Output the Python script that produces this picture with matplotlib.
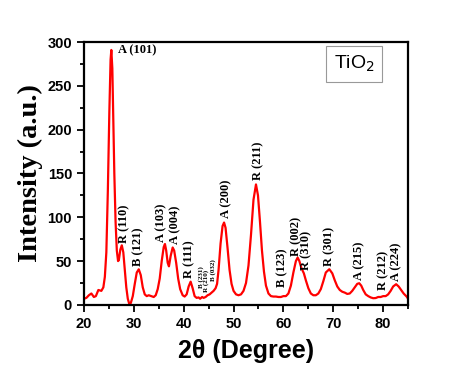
import matplotlib
matplotlib.use("Agg")
import matplotlib.pyplot as plt
from matplotlib.ticker import MultipleLocator

# XRD pattern (2theta, intensity)
two_theta = [20.0, 20.5, 21.0, 21.5, 22.0, 22.4, 22.9, 23.5, 23.9, 24.2, 24.5, 24.8,
             25.1, 25.35, 25.5, 25.7, 25.9, 26.1, 26.35, 26.6, 26.85, 27.0, 27.3, 27.6,
             27.9, 28.2, 28.5, 28.8, 29.1, 29.4, 29.8, 30.2, 30.6, 31.0, 31.4, 31.8,
             32.2, 32.6, 33.0, 33.5, 34.0, 34.4, 34.8, 35.2, 35.6, 36.0, 36.25, 36.5,
             36.8, 37.05, 37.4, 37.8, 38.1, 38.5, 38.9, 39.3, 39.8, 40.2, 40.6, 41.0,
             41.4, 41.8, 42.2, 42.6, 43.0, 43.3, 43.7, 44.0, 44.4, 44.8, 45.2, 45.6,
             46.0, 46.4, 46.7, 47.0, 47.4, 47.8, 48.1, 48.4, 48.8, 49.2, 49.6, 50.0,
             50.5, 51.0, 51.5, 52.0, 52.5, 53.0, 53.5, 54.0, 54.5, 54.9, 55.3, 55.7,
             56.1, 56.5, 57.0, 57.5, 58.0, 58.5, 59.0, 59.5, 60.0, 60.5, 61.0, 61.5,
             62.0, 62.5, 62.85, 63.2, 63.6, 64.1, 64.5, 65.0, 65.5, 66.0, 66.5, 67.0,
             67.5, 68.0, 68.5, 69.2, 69.8, 70.3, 70.8, 71.3, 71.8, 72.3, 72.8, 73.3,
             73.8, 74.3, 74.8, 75.2, 75.6, 76.0, 76.5, 77.0, 77.5, 78.0, 78.5, 79.0,
             79.5, 80.0, 80.5, 81.0, 81.5, 82.0, 82.6, 83.1, 83.6, 84.1, 84.7, 85.0]
intensity = [7, 8, 11, 13, 9, 10, 17, 16, 20, 32, 60, 130,
             220, 280, 291, 270, 210, 150, 95, 62, 50, 51, 63, 68,
             60, 40, 20, 7, 1, 2, 10, 24, 37, 40.6, 34, 20,
             12, 10, 11, 10, 9, 11, 18, 30, 50, 66, 69.5, 62,
             48, 44, 56, 65.5, 62, 48, 30, 18, 11, 9.5, 12, 21,
             26.5, 19, 10, 8, 8.5, 7, 9, 8, 9, 11, 12, 14,
             16, 19, 24, 40, 70, 90, 94, 88, 65, 40, 24, 16,
             12, 11, 12, 16, 25, 45, 80, 120, 137.5, 125, 95, 62,
             38, 22, 13, 10, 9.5, 9.5, 9, 9, 10, 10, 13, 22,
             37, 50, 54, 50, 42, 36, 28, 19, 13, 11, 11, 13,
             18, 27, 37, 40.7, 36, 28, 21, 17, 15, 14, 12.5, 13,
             16, 20, 24, 24.7, 22, 17, 12, 10, 8.5, 7.6, 7.8, 9,
             9, 10, 10, 12, 16, 21, 23.6, 21, 17, 13, 9.5, 7]

# peak labels: text, x, y (bottom of vertical label), font size
peak_labels = ["R (110)", "B (121)", "A (103)", "A (004)", "R (111)",
               "B (231)", "R (210)", "B (032)", "A (200)", "R (211)",
               "B (123)", "R (002)", "R (310)", "R (301)", "A (215)",
               "R (212)", "A (224)"]
peak_x = [28.0, 30.9, 35.6, 38.25, 41.1, 43.4, 44.6, 45.9, 48.5, 55.0,
          59.85, 62.6, 64.6, 69.2, 75.2, 80.05, 82.7]
peak_y = [71, 44, 72, 69, 31, 19, 15, 27, 99, 143, 20, 56, 40, 44, 28.5, 17, 27]
peak_size = [9, 9, 9, 9, 9, 5, 5, 5, 9, 9, 9, 9, 9, 9, 9, 9, 9]

fig = plt.figure(figsize=(4.74, 3.66), dpi=100)
ax = fig.add_axes([0.177, 0.167, 0.684, 0.718])

ax.plot(two_theta, intensity, color="#ff0000", lw=1.6)

ax.text(26.8, 291, "A (101)", fontsize=9, fontweight="bold",
        family="Liberation Serif", va="center", ha="left")
for t, x, y, s in zip(peak_labels, peak_x, peak_y, peak_size):
    ax.text(x, y, t, rotation=90, fontsize=s, fontweight="bold",
            family="Liberation Serif", ha="center", va="bottom")

ax.text(0.833, 0.918, "TiO$_2$", transform=ax.transAxes, fontsize=14,
        family="Liberation Sans", ha="center", va="center",
        bbox=dict(boxstyle="square,pad=0.4", fc="white", ec="#999999", lw=0.8))

ax.set_xlim(20, 85)
ax.set_ylim(0, 300)
ax.xaxis.set_major_locator(MultipleLocator(10))
ax.xaxis.set_minor_locator(MultipleLocator(5))
ax.yaxis.set_major_locator(MultipleLocator(50))
ax.yaxis.set_minor_locator(MultipleLocator(25))
ax.tick_params(which="both", direction="out", top=False, right=False, width=1.3)
ax.tick_params(which="major", length=5, labelsize=10.5)
ax.tick_params(which="minor", length=3)
for lab in ax.get_xticklabels() + ax.get_yticklabels():
    lab.set_fontfamily("Liberation Sans")
    lab.set_fontweight("bold")
for sp in ax.spines.values():
    sp.set_linewidth(1.6)

ax.set_xlabel("2\u03b8 (Degree)", fontsize=18, fontweight="bold",
              family="Liberation Sans", labelpad=6)
ax.set_ylabel("Intensity (a.u.)", fontsize=20.5, fontweight="bold",
              family="Liberation Serif", labelpad=3)

fig.savefig("out.png", dpi=100)
